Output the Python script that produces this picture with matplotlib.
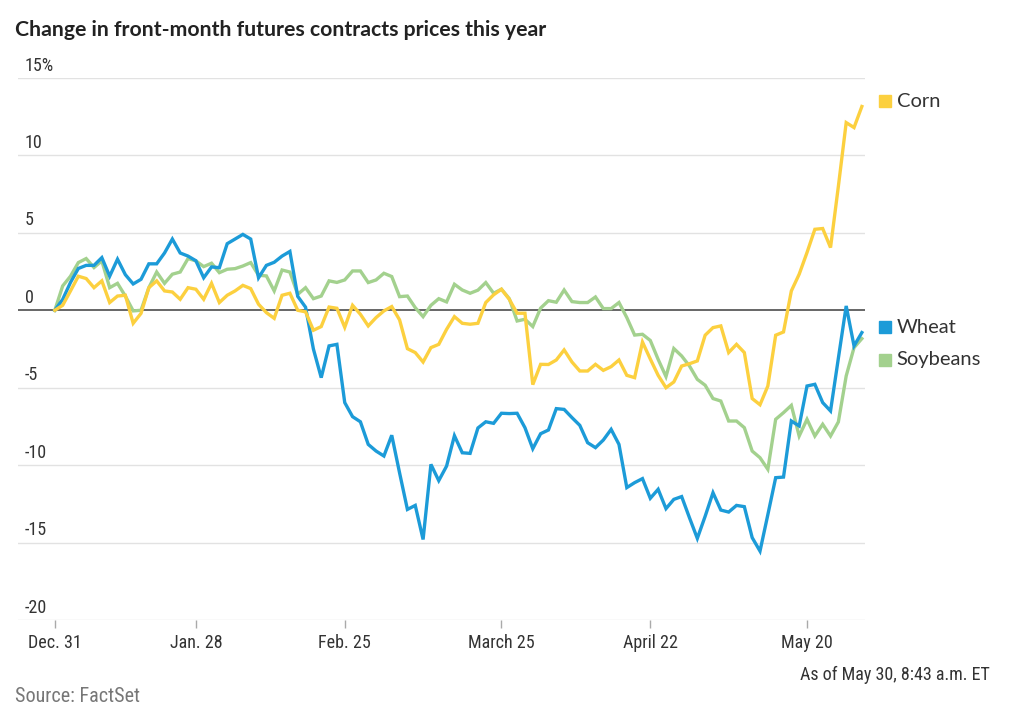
import numpy as np
import matplotlib
matplotlib.use("Agg")
import matplotlib.pyplot as plt
from matplotlib import font_manager as fm
from matplotlib.font_manager import FontProperties

# ---------------- data ----------------
tick_idx = [0, 18, 37, 57, 76, 96]
tick_labels = ["Dec. 31", "Jan. 28", "Feb. 25", "March 25", "April 22", "May 20"]

corn = [0, 0.32, 1.25, 2.2, 2.05, 1.46, 1.9, 0.5, 0.92, 0.97,
        -0.84, -0.2, 1.46, 1.9, 1.25, 1.18, 0.71, 1.46, 1.36, 0.71,
        1.74, 0.5, 0.97, 1.25, 1.61, 1.4, 0.39, -0.15, -0.52, 0.97,
        1.1, 0.0, -0.1, -1.29, -1.05, 0.21, 0.13, -1.1, 0.32, -0.26,
        -1.01, -0.47, -0.04, 0.24, -0.62, -2.48, -2.73, -3.34, -2.41, -2.2,
        -1.23, -0.41, -0.84, -0.9, -0.84, 0.5, 1.0, 1.36, 0.71, -0.19,
        -0.19, -4.8, -3.49, -3.5, -3.21, -2.56, -3.34, -3.92, -3.92, -3.49,
        -3.88, -3.64, -3.21, -4.2, -4.35, -2.05, -3.15, -4.2, -5.0, -4.63,
        -3.6, -3.45, -3.27, -1.61, -1.12, -1.01, -2.73, -2.2, -2.73, -5.7,
        -6.1, -4.89, -1.61, -1.4, 1.25, 2.33, 3.73, 5.23, 5.28, 4.05,
        8.0, 12.12, 11.8, 13.16]

wheat = [0, 0.7, 1.8, 2.7, 2.9, 2.9, 3.4, 2.2, 3.3, 2.3,
         1.7, 2.0, 3.0, 3.0, 3.7, 4.6, 3.7, 3.5, 3.2, 2.1,
         2.8, 2.75, 4.3, 4.6, 4.9, 4.6, 2.1, 2.9, 3.1, 3.5,
         3.8, 0.9, 0.2, -2.5, -4.35, -2.3, -2.2, -5.96, -6.87, -7.2,
         -8.66, -9.09, -9.41, -8.07, -10.5, -12.86, -12.6, -14.8, -9.95, -11.0,
         -10.06, -8.1, -9.2, -9.24, -7.6, -7.2, -7.3, -6.65, -6.67, -6.65,
         -7.58, -8.94, -7.97, -7.73, -6.35, -6.4, -6.93, -7.43, -8.55, -8.87,
         -8.38, -7.69, -8.66, -11.45, -11.13, -10.87, -12.14, -11.56, -12.81, -12.21,
         -12.03, -13.4, -14.73, -13.3, -11.78, -12.9, -13.03, -12.6, -12.68, -14.68,
         -15.55, -13.2, -10.81, -10.77, -7.15, -7.47, -4.89, -4.78, -5.96, -6.5,
         -3.1, 0.28, -2.3, -1.44]

soybeans = [0, 1.57, 2.2, 3.08, 3.34, 2.76, 3.19, 1.46, 1.74, 0.92,
            -0.04, 0.0, 1.46, 2.47, 1.74, 2.33, 2.47, 3.34, 3.19, 2.82,
            3.04, 2.43, 2.65, 2.69, 2.86, 3.08, 2.26, 2.22, 1.25, 2.6,
            2.47, 1.03, 1.46, 0.75, 0.92, 1.9, 1.8, 1.96, 2.54, 2.54,
            1.79, 1.96, 2.39, 2.18, 0.88, 0.92, 0.17, -0.41, 0.32, 0.75,
            0.54, 1.68, 1.31, 1.1, 1.3, 1.79, 1.1, 1.36, 0.75, -0.69,
            -0.58, -1.05, 0.14, 0.62, 0.52, 1.31, 0.56, 0.5, 0.5, 0.86,
            0.11, 0.11, 0.5, -0.47, -1.6, -1.55, -1.95, -3.17, -4.28, -2.47,
            -2.95, -3.6, -4.46, -4.84, -5.7, -5.86, -7.15, -7.15, -7.58, -9.09,
            -9.52, -10.27, -7.04, -6.61, -6.14, -8.12, -7.04, -8.12, -7.36, -8.12,
            -7.21, -4.24, -2.41, -1.83]

y_ticks = [15, 10, 5, 0, -5, -10, -15, -20]
y_tick_labels = ["15%", "10", "5", "0", "-5", "-10", "-15", "-20"]

series_names = ["Soybeans", "Wheat", "Corn"]
series_values = [soybeans, wheat, corn]
series_colors = ["#a3d18e", "#1c9bd8", "#fcd03f"]
legend_y = {"Corn": 13.5, "Wheat": -1.1, "Soybeans": -3.2}

# ---------------- fonts ----------------
def pick(cands):
    for c in cands:
        try:
            fm.findfont(FontProperties(family=c), fallback_to_default=False)
            return c
        except Exception:
            pass
    return "DejaVu Sans"

narrow = pick(["Liberation Sans Narrow", "Roboto Condensed", "DejaVu Sans Condensed", "Liberation Sans"])
humanist = pick(["Lato", "Open Sans", "Noto Sans"])

TXT = "#333333"

fig = plt.figure(figsize=(10.24, 7.23), dpi=100)
ax = fig.add_axes([18 / 1024, 1 - 620 / 723, 847 / 1024, (620 - 78) / 723])

x = np.arange(len(corn))
for name, vals, col in zip(series_names, series_values, series_colors):
    ax.plot(x, vals, color=col, lw=2.4, solid_joinstyle="miter", zorder=3)

ax.set_xlim(-4.7, 103.4)
ax.set_ylim(-20, 15)

for v in y_ticks:
    if v == 0:
        ax.axhline(v, color="#666666", lw=1.4, zorder=2)
    else:
        ax.axhline(v, color="#e2e2e2", lw=1.0, zorder=1)

for v, lab in zip(y_ticks, y_tick_labels):
    ax.annotate(lab, xy=(0.008, v), xycoords=("axes fraction", "data"),
                xytext=(0, 2.5), textcoords="offset points", va="bottom", ha="left",
                fontsize=13, family=narrow, color=TXT)

ax.set_yticks([])
ax.set_xticks(tick_idx)
ax.set_xticklabels(tick_labels, family=narrow, fontsize=13, color=TXT)
ax.tick_params(axis="x", length=6, width=1, color="#aaaaaa", pad=4)
for s in ax.spines.values():
    s.set_visible(False)

# legend labels at right
for name, col in zip(series_names, series_colors):
    yv = legend_y[name]
    ax.plot([1.0235], [yv], marker="s", ms=8.5, color=col, mec=col,
            transform=ax.get_yaxis_transform(), clip_on=False)
    ax.text(1.0375, yv, name, transform=ax.get_yaxis_transform(), va="center",
            ha="left", fontsize=14.5, family=humanist, color=TXT)

fig.text(15 / 1024, 1 - 30 / 723, "Change in front-month futures contracts prices this year",
         fontsize=15.3, fontweight="bold", family=humanist, color="#222222", va="center", ha="left")
fig.text(990 / 1024, 1 - 675 / 723, "As of May 30, 8:43 a.m. ET", fontsize=13,
         family=narrow, color=TXT, va="center", ha="right")
fig.text(15 / 1024, 1 - 697 / 723, "Source: FactSet", fontsize=14.5, family=narrow,
         color="#777777", va="center", ha="left")

fig.savefig("out.png", dpi=100, facecolor="white")
